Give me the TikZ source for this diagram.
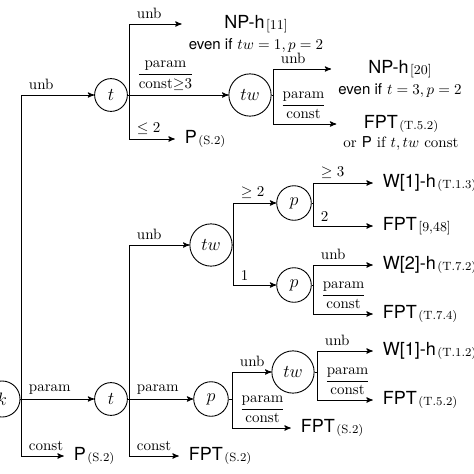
\documentclass[tikz,border=0pt]{standalone}
\usepackage{amsmath}
\usepackage{amssymb}
\usepackage{fontspec}
\newfontfamily\hv{TeX Gyre Heros}
\usepackage{tikz}
\usetikzlibrary{arrows}
\usetikzlibrary{positioning}

\newcommand{\srcref}[1]{\kern1pt\raisebox{-1pt}{\normalfont\footnotesize (#1)}}
\newcommand{\citeref}[1]{\kern1pt\raisebox{-1pt}{\normalfont\small [#1]}}
\newcommand{\pfrac}[1]{$\dfrac{\text{param}}{#1}$}

\begin{document}
\begin{tikzpicture}[->,>=stealth',x=0.6667pt,y=-0.6667pt,semithick,
	var node/.style={circle, draw, inner sep=4.8pt, font=\large},
	res node/.style={inner sep=3pt, font=\hv\large},
	note node/.style={inner sep=1pt},
	lbl/.style={anchor=south west, inner sep=3pt, xshift=2pt},
	to res/.style={shorten >=3.5pt}]

	\useasboundingbox (0,0) rectangle (474,474);
	\clip (0,0) rectangle (474,474);

	% parameters
	\node[var node] (k) at (2,399) {$k$};
	\node[var node] (t1) at (111,95) {$t$};
	\node[var node] (tw1) at (250,95) {$tw$};
	\node[var node] (t2) at (111,399) {$t$};
	\node[var node] (tw2) at (211,245) {$tw$};
	\node[var node] (p1) at (294,203) {$p$};
	\node[var node] (p2) at (294,285) {$p$};
	\node[var node] (p3) at (211,399) {$p$};
	\node[var node] (tw3) at (293,372) {$tw$};

	% where the branches split
	\coordinate (bk) at (21,399);
	\coordinate (bt1) at (129,95);
	\coordinate (btw1) at (273,95);
	\coordinate (bt2) at (129,399);
	\coordinate (btw2) at (233,245);
	\coordinate (bp1) at (313,203);
	\coordinate (bp2) at (313,285);
	\coordinate (bp3) at (232,399);
	\coordinate (btw3) at (317,372);

	% results
	\node[res node] (np11) at (256,24) {NP-h\citeref{11}};
	\node[note node, below=-1pt of np11] (np11n) {{\hv even if} $tw = 1, p = 2$};
	\node[res node, anchor=west] (ps1) at (180,139) {P\srcref{S.2}};
	\node[res node] (np20) at (400,69) {NP-h\citeref{20}};
	\node[note node, below=-1pt of np20] (np20n) {{\hv even if} $t = 3, p = 2$};
	\node[res node] (fpt1) at (401,124) {FPT\srcref{T.5.2}};
	\node[note node, below=-2pt of fpt1] (fpt1n) {or {\hv P} if $t, tw$ const};
	\node[res node, anchor=west] (w1a) at (378,183) {W[1]-h\srcref{T.1.3}};
	\node[res node, anchor=west] (fpt2) at (378,226) {FPT\citeref{9,48}};
	\node[res node, anchor=west] (w2) at (378,265) {W[2]-h\srcref{T.7.2}};
	\node[res node, anchor=west] (fpt3) at (378,314) {FPT\srcref{T.7.4}};
	\node[res node, anchor=west] (w1b) at (378,351) {W[1]-h\srcref{T.1.2}};
	\node[res node, anchor=west] (fpt4) at (378,400) {FPT\srcref{T.5.2}};
	\node[res node, anchor=west] (fpt5) at (296,428) {FPT\srcref{S.2}};
	\node[res node, anchor=west] (fpt6) at (184,456) {FPT\srcref{S.2}};
	\node[res node, anchor=west] (ps2) at (69,456) {P\srcref{S.2}};

	% k
	\draw (k) -- (t2);
	\node[lbl] at (bk) {param};
	\draw (bk) |- node[lbl, pos=0.5] {unb} (t1);
	\draw[to res] (bk) |- node[lbl, pos=0.5] {const} (ps2);

	% t, unbounded k
	\draw (t1) -- (tw1);
	\node[lbl] at (bt1) {\pfrac{\text{const}{\geq}3}};
	\draw[to res] (bt1) |- node[lbl, pos=0.5] {unb} (np11n.west |- np11);
	\draw[to res] (bt1) |- node[lbl, pos=0.5] {$\leq 2$} (ps1);

	\draw[-] (tw1) -- (btw1);
	\draw[to res] (btw1) |- node[lbl, pos=0.5] {unb} (np20n.west |- np20);
	\draw[to res] (btw1) |- node[lbl, pos=0.5] {\pfrac{\text{const}}} (fpt1n.west |- fpt1);

	% t, parameter k
	\draw (t2) -- (p3);
	\node[lbl] at (bt2) {param};
	\draw (bt2) |- node[lbl, pos=0.5] {unb} (tw2);
	\draw[to res] (bt2) |- node[lbl, pos=0.5] {const} (fpt6);

	\draw[-] (tw2) -- (btw2);
	\draw (btw2) |- node[lbl, pos=0.5] {$\geq 2$} (p1);
	\draw (btw2) |- node[lbl, pos=0.5] {1} (p2);

	\draw[-] (p1) -- (bp1);
	\draw[to res] (bp1) |- node[lbl, pos=0.5] {$\geq 3$} (w1a);
	\draw[to res] (bp1) |- node[lbl, pos=0.5] {2} (fpt2);

	\draw[-] (p2) -- (bp2);
	\draw[to res] (bp2) |- node[lbl, pos=0.5] {unb} (w2);
	\draw[to res] (bp2) |- node[lbl, pos=0.5] {\pfrac{\text{const}}} (fpt3);

	\draw[-] (p3) -- (bp3);
	\draw (bp3) |- node[lbl, pos=0.5] {unb} (tw3);
	\draw[to res] (bp3) |- node[lbl, pos=0.5] {\pfrac{\text{const}}} (fpt5);

	\draw[-] (tw3) -- (btw3);
	\draw[to res] (btw3) |- node[lbl, pos=0.5] {unb} (w1b);
	\draw[to res] (btw3) |- node[lbl, pos=0.5] {\pfrac{\text{const}}} (fpt4);
\end{tikzpicture}
\end{document}
